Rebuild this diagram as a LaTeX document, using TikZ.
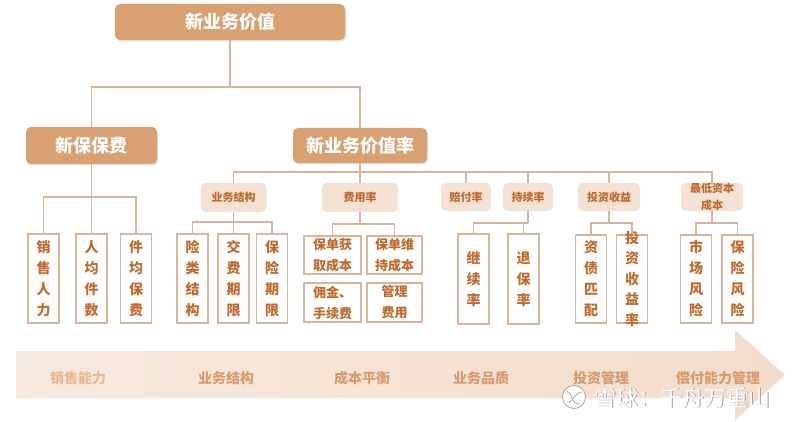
\documentclass[tikz,border=0pt]{standalone}
\usepackage{fontspec}
\setmainfont{Noto Sans CJK SC}
\usetikzlibrary{shadows}
\definecolor{darkbox}{HTML}{D9A072}
\definecolor{lightbox}{HTML}{F3E1D4}
\definecolor{linec}{HTML}{D8B59C}
\definecolor{txtc}{HTML}{C2692C}
\definecolor{bandL}{HTML}{F7E9DF}
\definecolor{bandR}{HTML}{F4DCCA}
\definecolor{bandtxt}{HTML}{D69C70}
\definecolor{bandtxtL}{HTML}{E6B894}
\tikzset{
  darkbox/.style={fill=darkbox, rounded corners=5pt, inner sep=0pt, text=white,
    font=\fontsize{18}{20}\selectfont\bfseries,
    drop shadow={opacity=0.25, shadow xshift=1pt, shadow yshift=-1.5pt}},
  lightbox/.style={fill=lightbox, rounded corners=5pt, inner sep=0pt, text=txtc,
    font=\fontsize{11}{17}\selectfont\bfseries, align=center},
  vbox/.style={draw=linec, line width=1.4pt, fill=white, inner sep=0pt, text=txtc,
    minimum width=31pt, align=center, font=\fontsize{14}{21}\selectfont\bfseries},
  hbox/.style={draw=linec, line width=1.4pt, fill=white, inner sep=0pt, text=txtc,
    align=center, font=\fontsize{13}{21}\selectfont\bfseries},
  conn/.style={draw=linec, line width=1.3pt},
  bandlabel/.style={text=bandtxt, font=\fontsize{14}{16}\selectfont\bfseries}
}
\begin{document}
\begin{tikzpicture}[x=1pt,y=-1pt]
\useasboundingbox (0,0) rectangle (800,422);
% bottom arrow band
\shade[left color=bandL, right color=bandR]
  (16,351) -- (735,351) -- (735,330) -- (785,375) -- (735,420) -- (735,398) -- (16,398) -- cycle;
\node[bandlabel, text=bandtxtL] (s1) at (78,378) {销售能力};
\node[bandlabel] (s2) at (226,378) {业务结构};
\node[bandlabel] (s3) at (362,378) {成本平衡};
\node[bandlabel] (s4) at (481,378) {业务品质};
\node[bandlabel] (s5) at (601,378) {投资管理};
\node[bandlabel] (s6) at (718,378) {偿付能力管理};
% watermark
\draw[gray!70, line width=0.8pt, fill=white] (574,397) circle (11.5pt);
\draw[gray!70, line width=0.8pt] (567,391) .. controls (575,397) and (570,404) .. (580,404);
\draw[gray!70, line width=0.8pt] (569,403) .. controls (574,398) and (577,392) .. (582,392);
\node[text=gray!75, font=\fontsize{22}{24}\selectfont] (wm1) at (683,398.6) {雪球：千舟万重山};
\node[text=white, font=\fontsize{22}{24}\selectfont] (wm2) at (682.3,397.8) {雪球：千舟万重山};
% level 0,1
\node[darkbox, minimum width=230pt, minimum height=36pt] (top) at (230,22) {新业务价值};
\node[darkbox, minimum width=131pt, minimum height=37pt] (xbf) at (91.5,145.5) {新保保费};
\node[darkbox, minimum width=134pt, minimum height=35pt] (xr) at (360,145.5) {新业务价值率};
% level 2
\node[lightbox, minimum width=66pt, minimum height=29pt] (l1) at (233.5,197.5) {业务结构};
\node[lightbox, minimum width=76pt, minimum height=29pt] (l2) at (360,197.5) {费用率};
\node[lightbox, minimum width=50pt, minimum height=28pt] (l3) at (466,197) {赔付率};
\node[lightbox, minimum width=50pt, minimum height=28pt] (l4) at (528,197) {持续率};
\node[lightbox, minimum width=62pt, minimum height=28pt] (l5) at (609,197) {投资收益};
\node[lightbox, minimum width=62pt, minimum height=28pt] (l6) at (712,197) {最低资本\\成本};
% leaves
\node[vbox, minimum height=89pt] (a1) at (43.5,278.5) {销\\售\\人\\力};
\node[vbox, minimum height=89pt] (a2) at (91.5,278.5) {人\\均\\件\\数};
\node[vbox, minimum height=89pt] (a3) at (136,278.5) {件\\均\\保\\费};
\node[vbox, minimum height=89pt] (b1) at (192.5,278.5) {险\\类\\结\\构};
\node[vbox, minimum height=89pt] (b2) at (233.5,278.5) {交\\费\\期\\限};
\node[vbox, minimum height=89pt] (b3) at (272,278.5) {保\\险\\期\\限};
\node[hbox, minimum width=57pt, minimum height=38pt] (c1) at (332.5,255) {保单获\\取成本};
\node[hbox, minimum width=55pt, minimum height=38pt] (c2) at (394.5,255) {保单维\\持成本};
\node[hbox, minimum width=57pt, minimum height=39pt] (c3) at (332.5,302.5) {佣金、\\手续费};
\node[hbox, minimum width=55pt, minimum height=39pt] (c4) at (394.5,302.5) {管理\\费用};
\node[vbox, minimum height=90pt] (d1) at (473.5,279) {继\\续\\率};
\node[vbox, minimum height=90pt] (d2) at (523.5,279) {退\\保\\率};
\node[vbox, minimum height=88pt] (e1) at (591,279) {资\\债\\匹\\配};
\node[vbox, minimum height=88pt] (e2) at (632,279) {};
\node[text=txtc, align=center, inner sep=0pt, font=\fontsize{14}{20.5}\selectfont\bfseries] (e2t) at (e2.center) {投\\资\\收\\益\\率};
\node[vbox, minimum height=88pt] (f1) at (696,279) {市\\场\\风\\险};
\node[vbox, minimum height=88pt] (f2) at (737.5,279) {保\\险\\风\\险};
% junctions
\coordinate (j1) at (230,87);
\coordinate (j2) at (360,172);
\coordinate (j3) at (91.5,197);
\coordinate (j4) at (233.5,222);
\coordinate (j5) at (360,224);
\coordinate (j6) at (528,223);
\coordinate (j7) at (609,223);
\coordinate (j8) at (712,223);
% connectors
\draw[conn] (top.south) -- (j1);
\draw[conn] (xbf.north) |- (j1) -| (xr.north);
\draw[conn] (xr.south) -- (l2.north);
\draw[conn] (l1.north) |- (j2) -| (l6.north);
\draw[conn] (l3.north) -- (l3.north |- j2);
\draw[conn] (l4.north) -- (l4.north |- j2);
\draw[conn] (l5.north) -- (l5.north |- j2);
\draw[conn] (xbf.south) -- (a2.north);
\draw[conn] (a1.north) |- (j3) -| (a3.north);
\draw[conn] (l1.south) -- (b2.north);
\draw[conn] (b1.north) |- (j4) -| (b3.north);
\draw[conn] (l2.south) -- (j5);
\draw[conn] (c1.north) |- (j5) -| (c2.north);
\draw[conn] (l4.south) -- (j6);
\draw[conn] (d1.north) |- (j6);
\draw[conn] (d2.north) -- (d2.north |- j6);
\draw[conn] (l5.south) -- (j7);
\draw[conn] (e1.north) |- (j7) -| (e2.north);
\draw[conn] (l6.south) -- (j8);
\draw[conn] (f1.north) |- (j8) -| (f2.north);
\end{tikzpicture}
\end{document}
